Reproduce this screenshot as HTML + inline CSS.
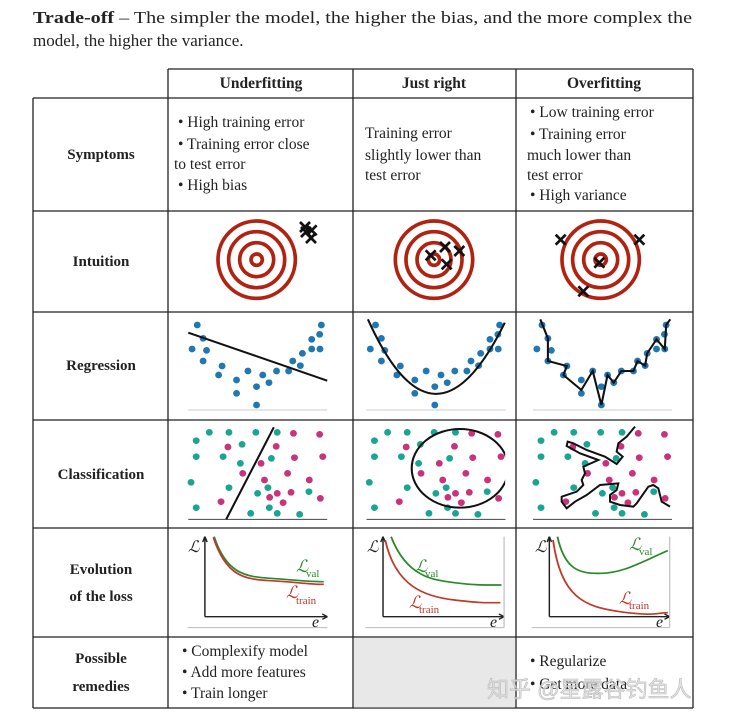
<!DOCTYPE html>
<html><head><meta charset="utf-8"><style>
html,body{margin:0;padding:0;background:#fff;width:737px;height:721px;overflow:hidden}
svg{display:block}
.t{font-family:"Liberation Serif",serif;fill:#222}
.b{font-weight:bold}
</style></head><body>
<svg width="737" height="721" viewBox="0 0 737 721" xmlns="http://www.w3.org/2000/svg">
<defs>
<g id="rd" fill="#1f77b4">
<circle cx="108" cy="45" r="10"/><circle cx="93" cy="117" r="10"/><circle cx="125" cy="85" r="10"/><circle cx="135" cy="121" r="10"/><circle cx="125" cy="153" r="10"/><circle cx="180" cy="168" r="10"/><circle cx="170" cy="195" r="10"/><circle cx="222" cy="210" r="10"/><circle cx="222" cy="250" r="10"/><circle cx="255" cy="183" r="10"/><circle cx="280" cy="230" r="10"/><circle cx="280" cy="285" r="10"/><circle cx="298" cy="195" r="10"/><circle cx="316" cy="218" r="10"/><circle cx="338" cy="183" r="10"/><circle cx="373" cy="183" r="10"/><circle cx="385" cy="153" r="10"/><circle cx="407" cy="167" r="10"/><circle cx="413" cy="130" r="10"/><circle cx="440" cy="88" r="10"/><circle cx="440" cy="117" r="10"/><circle cx="463" cy="73" r="10"/><circle cx="468" cy="45" r="10"/><circle cx="464" cy="117" r="10"/>
<line x1="82" y1="300" x2="485" y2="300" stroke="#ccc" stroke-width="3"/>
</g>
<g id="cd">
<g fill="#1aa593"><circle cx="143" cy="367" r="10"/><circle cx="200" cy="367" r="10"/><circle cx="278" cy="367" r="10"/><circle cx="340" cy="367" r="10"/><circle cx="105" cy="392" r="10"/><circle cx="238" cy="403" r="10"/><circle cx="105" cy="440" r="10"/><circle cx="183" cy="440" r="10"/><circle cx="233" cy="460" r="10"/><circle cx="323" cy="445" r="10"/><circle cx="90" cy="517" r="10"/><circle cx="200" cy="533" r="10"/><circle cx="283" cy="550" r="10"/><circle cx="313" cy="533" r="10"/><circle cx="432" cy="545" r="10"/><circle cx="105" cy="593" r="10"/><circle cx="263" cy="610" r="10"/><circle cx="317" cy="593" r="10"/><circle cx="340" cy="610" r="10"/><circle cx="405" cy="613" r="10"/></g>
<g fill="#c8337a"><circle cx="387" cy="370" r="10"/><circle cx="463" cy="373" r="10"/><circle cx="197" cy="411" r="10"/><circle cx="337" cy="409" r="10"/><circle cx="390" cy="443" r="10"/><circle cx="472" cy="440" r="10"/><circle cx="293" cy="460" r="10"/><circle cx="240" cy="490" r="10"/><circle cx="370" cy="490" r="10"/><circle cx="303" cy="510" r="10"/><circle cx="433" cy="510" r="10"/><circle cx="340" cy="550" r="10"/><circle cx="380" cy="547" r="10"/><circle cx="318" cy="562" r="10"/><circle cx="177" cy="575" r="10"/><circle cx="357" cy="578" r="10"/><circle cx="465" cy="565" r="10"/></g>
<line x1="82" y1="628" x2="485" y2="628" stroke="#444" stroke-width="3"/>
</g>
<g id="tg" fill="none" stroke="#b22210" stroke-width="11"><circle r="116"/><circle r="84"/><circle r="51"/><circle r="17"/></g>
<path id="x" d="M-15,-15L15,15M-15,15L15,-15" stroke="#111" stroke-width="8" fill="none"/>
<clipPath id="c2"><rect x="595" y="352" width="406" height="280"/></clipPath>
</defs>

<text class="t" x="33" y="23" font-size="17" textLength="659" lengthAdjust="spacingAndGlyphs"><tspan class="b">Trade-off</tspan> – The simpler the model, the higher the bias, and the more complex the</text>
<text class="t" x="33" y="46" font-size="17">model, the higher the variance.</text>

<g stroke="#222" stroke-width="1.3" fill="none">
<line x1="168" y1="69" x2="693" y2="69"/>
<line x1="33" y1="98" x2="693" y2="98"/>
<line x1="33" y1="211" x2="693" y2="211"/>
<line x1="33" y1="312" x2="693" y2="312"/>
<line x1="33" y1="420" x2="693" y2="420"/>
<line x1="33" y1="528" x2="693" y2="528"/>
<line x1="33" y1="637" x2="693" y2="637"/>
<line x1="33" y1="708" x2="693" y2="708"/>
<line x1="33" y1="98" x2="33" y2="708"/>
<line x1="168" y1="69" x2="168" y2="708"/>
<line x1="353" y1="69" x2="353" y2="708"/>
<line x1="516" y1="69" x2="516" y2="708"/>
<line x1="693" y1="69" x2="693" y2="708"/>
</g>
<rect x="354" y="638" width="161" height="69.5" fill="#e8e8e8"/>

<g class="t b" font-size="15.5" text-anchor="middle">
<text x="261" y="88">Underfitting</text><text x="434" y="88">Just right</text><text x="604" y="88">Overfitting</text>
</g>
<g class="t b" font-size="15" text-anchor="middle">
<text x="101" y="159">Symptoms</text>
<text x="101" y="266">Intuition</text>
<text x="101" y="370">Regression</text>
<text x="101" y="479">Classification</text>
<text x="101" y="574">Evolution</text><text x="101" y="601">of the loss</text>
<text x="101" y="663">Possible</text><text x="101" y="691">remedies</text>
</g>
<g class="t" font-size="15.5">
<text x="178" y="127">• High training error</text>
<text x="178" y="149">• Training error close</text>
<text x="174" y="169">to test error</text>
<text x="178" y="190">• High bias</text>
<text x="365" y="138">Training error</text>
<text x="365" y="160">slightly lower than</text>
<text x="365" y="180">test error</text>
<text x="530" y="117">• Low training error</text>
<text x="530" y="139">• Training error</text>
<text x="527" y="160">much lower than</text>
<text x="527" y="180">test error</text>
<text x="530" y="200">• High variance</text>
<text x="182" y="656">• Complexify model</text>
<text x="182" y="677">• Add more features</text>
<text x="182" y="698">• Train longer</text>
<text x="530" y="666">• Regularize</text>
<text x="530" y="689">• Get more data</text>
</g>

<g transform="translate(180,212) scale(0.33333)">
<use href="#tg" x="230" y="143"/><use href="#tg" x="762" y="143"/><use href="#tg" x="1262" y="143"/>
<use href="#x" x="375" y="45"/><use href="#x" x="395" y="55"/><use href="#x" x="378" y="60"/><use href="#x" x="393" y="78"/>
<use href="#x" x="752" y="130"/><use href="#x" x="795" y="105"/><use href="#x" x="838" y="117"/><use href="#x" x="800" y="157"/>
<use href="#x" x="1142" y="83"/><use href="#x" x="1378" y="83"/><use href="#x" x="1258" y="152"/><use href="#x" x="1210" y="238"/>
</g>

<g transform="translate(160,310) scale(0.3448,0.33333)">
<use href="#rd"/><use href="#rd" x="517"/><use href="#rd" x="1000"/>
<g fill="none" stroke="#111" stroke-width="6">
<line x1="82" y1="68" x2="485" y2="212"/>
<path d="M603,28 Q795,470 1000,38"/>
<polyline points="1103,28 1125,85 1125,153 1180,168 1170,195 1222,240 1255,183 1280,285 1298,195 1316,218 1338,183 1373,183 1385,153 1407,167 1413,130 1440,88 1464,117 1468,45 1480,28"/>
</g>
<use href="#cd"/><use href="#cd" x="517"/><use href="#cd" x="1000"/>
<line x1="192" y1="628" x2="330" y2="352" stroke="#111" stroke-width="6"/>
<ellipse cx="870" cy="475" rx="140" ry="118" fill="none" stroke="#111" stroke-width="6" clip-path="url(#c2)"/>
</g>
<g transform="translate(520,420) scale(0.33333)" fill="none" stroke="#111" stroke-width="6">
<polyline points="345,20 320,50 295,70 290,95 308,110 290,132 255,110 200,90 160,70 143,65 140,78 180,100 235,120 190,140 195,160 185,180 190,195 170,215 125,230 125,245 140,265 165,245 200,225 240,195 295,190 290,210 270,225 270,245 300,255 340,260 350,250 385,200 400,195 415,205 425,245 450,260"/>
</g>

<g transform="translate(160,530) scale(0.368,0.33333)" fill="none" stroke-width="5">
<g stroke="#222" stroke-width="4">
<path d="M122,260V20M122,260H455"/><path d="M122,20l-6,16M122,20l6,16M455,260l-14,-8M455,260l-14,8"/>
<path d="M606,260V20M606,260H935"/><path d="M606,20l-6,16M606,20l6,16M935,260l-14,-8M935,260l-14,8"/>
<path d="M1058,260V20M1058,260H1385"/><path d="M1058,20l-6,16M1058,20l6,16M1385,260l-14,-8M1385,260l-14,8"/>
</g>
<g stroke="#bbb" stroke-width="3"><path d="M75,293H455M558,293H935M1010,293H1385M935,20V293M1385,20V293"/></g>
<path stroke="#2a8a2a" d="M147,20 C180,130 230,140 300,145 S400,155 445,155"/>
<path stroke="#c0392b" d="M145,22 C180,140 230,148 300,152 S400,163 445,163"/>
<path stroke="#2a8a2a" d="M628,20 C670,140 740,150 800,158 S880,165 928,165"/>
<path stroke="#c0392b" d="M612,30 C640,170 720,200 800,210 S880,218 925,218"/>
<path stroke="#2a8a2a" d="M1080,20 C1100,120 1140,132 1200,130 S1300,100 1380,62"/>
<path stroke="#c0392b" d="M1068,30 C1090,200 1150,230 1250,245 S1350,248 1380,248"/>
</g>
<g font-family="Liberation Serif,serif" font-style="italic">
<g font-size="16" fill="#222"><text x="188" y="552">ℒ</text><text x="367" y="552">ℒ</text><text x="535" y="552">ℒ</text>
<text x="312" y="627">e</text><text x="490" y="627">e</text><text x="656" y="627">e</text></g>
<g fill="#2a8a2a"><text x="296" y="572" font-size="17">ℒ</text><text x="306" y="577" font-size="11" font-style="normal">val</text>
<text x="415" y="572" font-size="17">ℒ</text><text x="425" y="577" font-size="11" font-style="normal">val</text>
<text x="629" y="550" font-size="17">ℒ</text><text x="639" y="555" font-size="11" font-style="normal">val</text></g>
<g fill="#c0392b"><text x="286" y="598" font-size="17">ℒ</text><text x="296" y="604" font-size="11" font-style="normal">train</text>
<text x="409" y="608" font-size="17">ℒ</text><text x="419" y="613" font-size="11" font-style="normal">train</text>
<text x="619" y="604" font-size="17">ℒ</text><text x="629" y="609" font-size="11" font-style="normal">train</text></g>
</g>

<text x="487" y="697" font-family="Liberation Sans,Noto Sans CJK SC,sans-serif" font-size="22" fill="#ddd" fill-opacity="0.8" stroke="#bbb" stroke-width="0.6">知乎 @星露谷钓鱼人</text>
</svg>
</body></html>
